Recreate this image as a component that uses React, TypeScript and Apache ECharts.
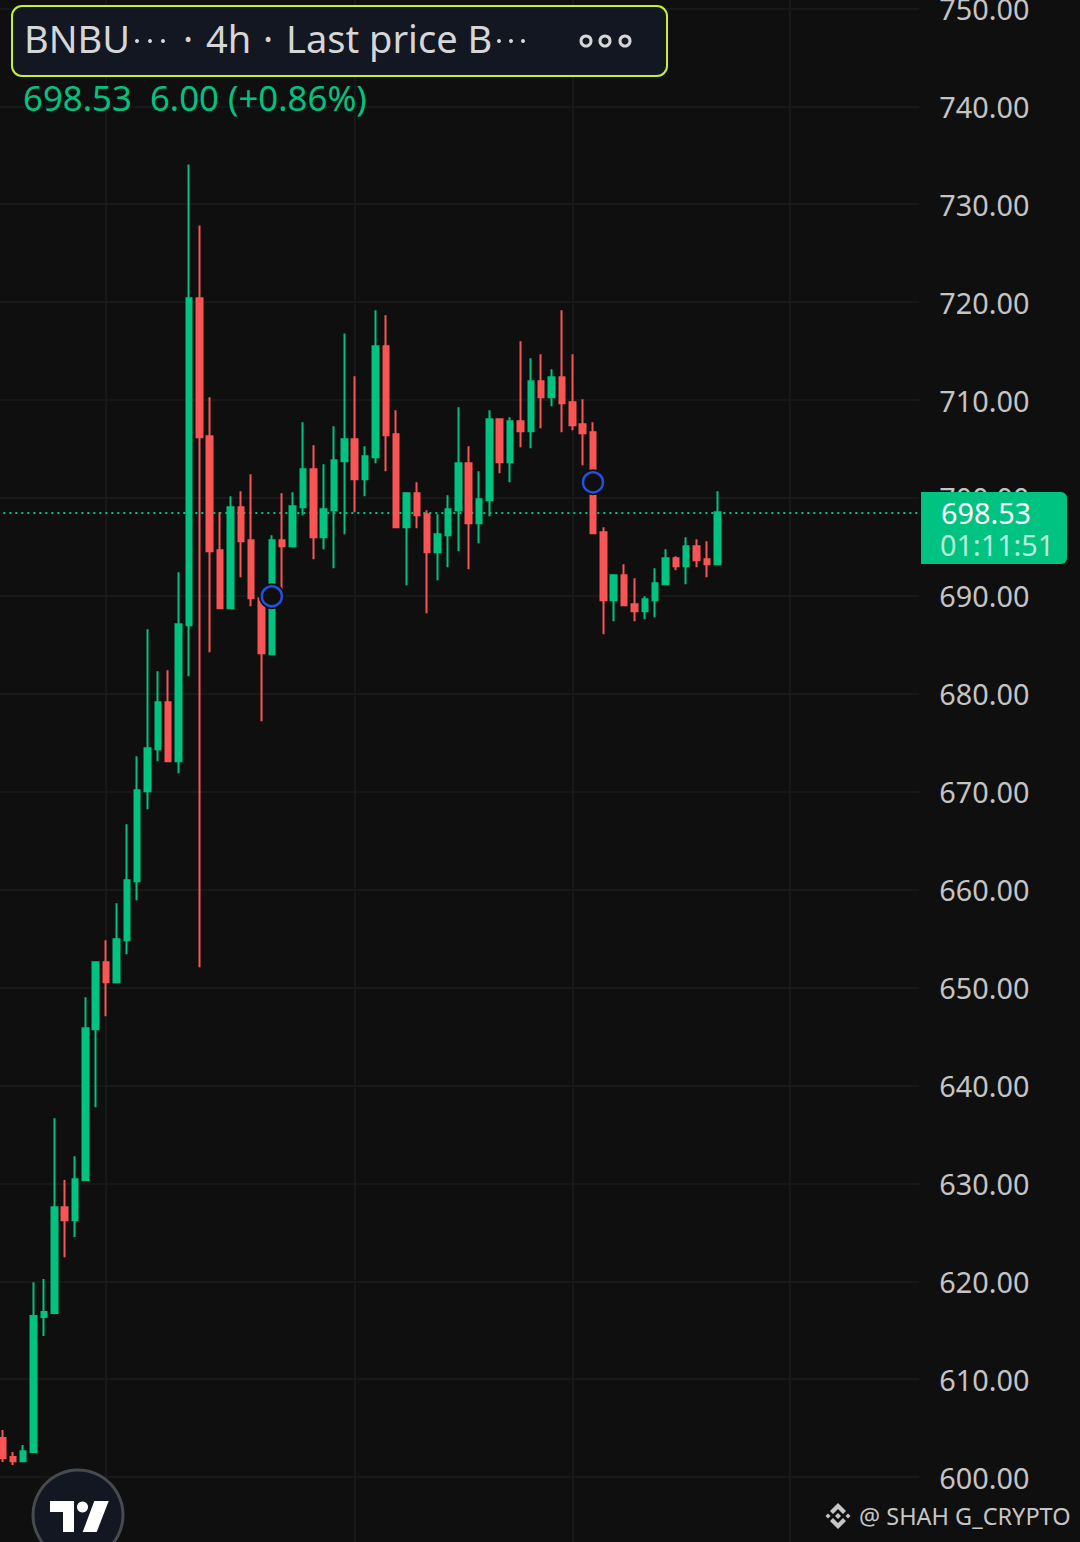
import React, { useEffect, useRef } from "react";
import * as echarts from "echarts";

const FONT = '"Noto Sans", sans-serif';
const BG = "#0f0f0f";
const UP = "#00c281";
const DOWN = "#f95555";
const GRID = "#181818";
const AXIS_TEXT = "#c4c4c4";

const opens = [603.98,602.04,601.63,602.55,616.34,616.75,627.57,626.24,630.33,645.75,652.59,650.54,654.83,660.86,670.05,674.34,679.14,673.11,687.0,720.39,706.3,694.66,688.73,699.05,695.68,689.76,684.04,695.68,695.06,699.05,702.93,695.98,698.74,703.74,705.99,701.91,704.15,715.49,706.5,697.0,700.48,698.33,694.45,696.19,698.74,703.54,697.41,699.76,708.03,703.64,707.83,706.81,711.91,710.28,712.32,709.77,707.52,706.7,696.49,689.55,692.1,689.14,688.43,689.55,691.18,693.84,693.02,695.06,693.74,693.23];
const closes = [601.94,601.63,602.65,616.44,616.85,627.57,626.24,630.43,645.85,652.59,650.54,654.94,660.96,670.15,674.44,679.14,673.11,687.1,720.39,706.19,694.55,688.73,699.05,695.58,689.76,684.14,695.68,695.06,699.15,702.93,695.98,698.84,703.85,705.99,701.91,704.25,715.49,706.4,697.0,700.48,698.23,694.45,696.29,698.84,703.54,697.41,699.86,708.03,703.64,707.83,706.81,711.91,710.28,712.32,709.67,707.42,706.6,696.39,689.55,692.1,689.04,688.43,689.65,691.29,693.84,693.02,695.06,693.64,693.23,698.53];
const lows = [601.53,601.23,601.63,602.55,614.4,616.64,622.46,624.51,630.33,637.78,647.07,650.54,653.4,658.92,668.21,673.11,673.01,671.89,681.79,652.08,684.24,688.63,688.63,691.9,688.94,677.2,683.93,690.57,695.06,698.23,693.74,694.76,692.82,696.29,698.54,700.17,703.54,702.72,696.9,691.08,696.9,688.22,691.59,692.92,694.55,692.72,695.37,698.13,702.52,701.6,705.17,705.07,707.11,709.36,706.7,706.91,703.34,696.29,686.08,687.41,689.04,687.41,687.61,687.82,691.08,692.61,691.18,692.92,691.9,693.23];
const highs = [604.8,602.55,603.27,619.91,620.22,636.66,630.33,632.78,649.01,652.59,654.83,658.61,666.68,673.62,686.59,682.3,682.4,692.41,734.07,727.84,710.28,698.54,700.17,700.68,702.42,689.86,696.19,700.48,700.58,707.73,705.38,703.44,707.32,716.81,712.42,705.28,719.16,718.65,708.95,700.58,701.6,698.74,698.33,700.27,709.26,705.28,702.72,708.95,708.13,708.24,716.0,714.26,714.67,713.14,719.16,714.67,710.08,707.73,697.0,692.2,693.23,691.8,689.96,692.82,694.76,694.04,695.98,695.78,695.58,700.68];

// slots on the time axis: the 70 candles plus the empty space to the right of the last one
const SLOT_COUNT = 89;
const categories = Array.from({ length: SLOT_COUNT }, (_, i) => String(i));
const timeGridSlots = [10, 34, 55, 76];
const lastPrice = 698.53;
const circleSlots = [26, 57];
const circlePrices = [689.96, 701.6];

const quoteText = "698.53  6.00 (+0.86%)";
const countdownText = "01:11:51";
const creditText = "@ SHAH G_CRYPTO";

export default function App() {
  const ref = useRef<HTMLDivElement>(null);
  useEffect(() => {
    document.body.style.margin = "0";
    document.body.style.background = BG;
    const chart = echarts.init(ref.current!, undefined, { renderer: "svg" });
    const ohlc = opens.map((o, i) => [o, closes[i], lows[i], highs[i]]);
    const circles = circleSlots.map((s, i) => [s, circlePrices[i]]);
    const txt = (text: string, x: number, y: number, size: number, fill: string, extra: any = {}) => ({
      type: "text",
      z: 100,
      x,
      y,
      silent: true,
      style: { text, fill, fontSize: size, fontFamily: FONT, verticalAlign: "middle", ...extra },
    });
    const dot = (cx: number, cy: number) => ({
      type: "circle",
      z: 100,
      silent: true,
      shape: { cx, cy, r: 2 },
      style: { fill: "#d6d6d6" },
    });
    const credit = "#c6c6c6";
    const headerY = 38;
    chart.setOption({
      animation: false,
      backgroundColor: BG,
      grid: {
        left: -2.68,
        right: 160.7,
        top: -89.5,
        bottom: -33,
        containLabel: false,
        outerBoundsMode: "none",
      },
      xAxis: {
        type: "category",
        data: categories,
        boundaryGap: true,
        axisLine: { show: false },
        axisTick: { show: false },
        axisLabel: { show: false },
        splitLine: {
          show: true,
          alignWithLabel: true,
          interval: (idx: number) => timeGridSlots.includes(idx),
          lineStyle: { color: GRID, width: 2 },
        },
      },
      yAxis: {
        type: "value",
        position: "right",
        min: 590,
        max: 760,
        interval: 10,
        axisLine: { show: false },
        axisTick: { show: false },
        splitLine: { show: true, lineStyle: { color: GRID, width: 2 } },
        axisLabel: {
          color: AXIS_TEXT,
          fontFamily: FONT,
          fontSize: 28.8,
          margin: 20,
          padding: [0, 0, 2, 0],
          formatter: (v: number) => (v >= 600 && v <= 750 ? v.toFixed(2) : ""),
        },
      },
      series: [
        {
          type: "candlestick",
          data: ohlc,
          barWidth: 6,
          z: 2,
          itemStyle: { color: UP, color0: DOWN, borderColor: UP, borderColor0: DOWN, borderWidth: 2 },
          markLine: {
            silent: true,
            z: 1,
            symbol: "none",
            label: { show: false },
            lineStyle: { color: UP, type: [2, 4], width: 2, opacity: 1 },
            data: [{ yAxis: lastPrice }],
          },
        },
        {
          type: "scatter",
          data: circles,
          z: 3,
          symbol: "circle",
          symbolSize: 26,
          silent: true,
          itemStyle: { color: BG, opacity: 1 },
        },
        {
          type: "scatter",
          data: circles,
          z: 4,
          symbol: "circle",
          symbolSize: 20,
          silent: true,
          itemStyle: { color: BG, borderColor: "#1f53e0", borderWidth: 2.5, opacity: 1 },
        },
      ],
      graphic: {
        elements: [
          {
            type: "rect",
            z: 99,
            silent: true,
            shape: { x: 12, y: 6, width: 655, height: 70, r: 10 },
            style: { fill: "#131722", stroke: "#c4f135", lineWidth: 2 },
          },
          txt("BNBU", 24, headerY, 38, "#d6d6d6"),
          dot(137, 41), dot(150, 41), dot(163, 41),
          txt("·", 183, headerY, 38, "#d6d6d6"),
          txt("4h", 206, headerY, 38, "#d6d6d6"),
          txt("·", 263, headerY, 38, "#d6d6d6"),
          txt("Last price B", 286, headerY, 38, "#d6d6d6"),
          dot(499, 41), dot(511, 41), dot(523, 41),
          { type: "circle", z: 100, silent: true, shape: { cx: 586, cy: 41, r: 5 }, style: { fill: "none", stroke: "#d6d6d6", lineWidth: 3 } },
          { type: "circle", z: 100, silent: true, shape: { cx: 605, cy: 41, r: 5 }, style: { fill: "none", stroke: "#d6d6d6", lineWidth: 3 } },
          { type: "circle", z: 100, silent: true, shape: { cx: 625, cy: 41, r: 5 }, style: { fill: "none", stroke: "#d6d6d6", lineWidth: 3 } },
          txt(quoteText, 23, 97, 34.8, UP),
          {
            type: "rect",
            z: 99,
            silent: true,
            shape: { x: 921, y: 492, width: 146, height: 72, r: [0, 6, 6, 0] },
            style: { fill: UP },
          },
          txt(lastPrice.toFixed(2), 941, 512, 28.8, "#ffffff"),
          txt(countdownText, 940, 544, 28.8, "rgba(255,255,255,0.72)"),
          {
            type: "circle",
            z: 99,
            silent: true,
            shape: { cx: 78, cy: 1515, r: 45 },
            style: { fill: "#131722", stroke: "#454b4f", lineWidth: 3 },
          },
          { type: "polygon", z: 100, silent: true, shape: { points: [[50, 1501], [74, 1501], [74, 1532], [63, 1532], [63, 1512], [50, 1512]] }, style: { fill: "#ffffff" } },
          { type: "circle", z: 100, silent: true, shape: { cx: 82.5, cy: 1507, r: 5.5 }, style: { fill: "#ffffff" } },
          { type: "polygon", z: 100, silent: true, shape: { points: [[94.3, 1501], [108.7, 1501], [96.7, 1532], [82.7, 1532]] }, style: { fill: "#ffffff" } },
          { type: "polygon", z: 100, silent: true, shape: { points: [[830, 1511], [838, 1503], [846, 1511], [843, 1514], [838, 1509], [833, 1514]] }, style: { fill: credit } },
          { type: "polygon", z: 100, silent: true, shape: { points: [[830, 1521], [838, 1529], [846, 1521], [843, 1518], [838, 1523], [833, 1518]] }, style: { fill: credit } },
          { type: "polygon", z: 100, silent: true, shape: { points: [[838, 1513], [841, 1516], [838, 1519], [835, 1516]] }, style: { fill: credit } },
          { type: "polygon", z: 100, silent: true, shape: { points: [[828, 1513.5], [830.5, 1516], [828, 1518.5], [825.5, 1516]] }, style: { fill: credit } },
          { type: "polygon", z: 100, silent: true, shape: { points: [[848, 1513.5], [850.5, 1516], [848, 1518.5], [845.5, 1516]] }, style: { fill: credit } },
          txt(creditText, 859, 1516, 23.5, credit),
        ],
      },
    });
    return () => chart.dispose();
  }, []);
  return <div ref={ref} style={{ width: 1080, height: 1542 }} />;
}
